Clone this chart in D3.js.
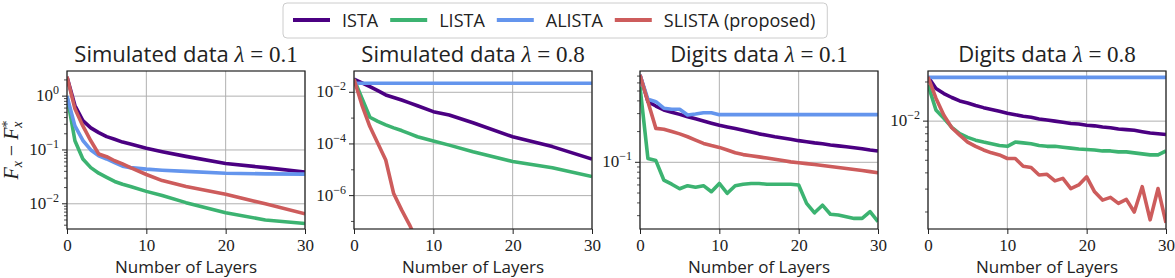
<!DOCTYPE html>
<html lang="en">
<head>
<meta charset="UTF-8">
<title>Objective gap vs number of layers</title>
<style>
  body, html { margin: 0; padding: 0; background: #fff; }
  svg { display: block; }
  .sans { font-family: "Open Sans", "Noto Sans", sans-serif; }
  .serif { font-family: "Liberation Serif", "DejaVu Serif", serif; }
</style>
</head>
<body>
<svg id="svg" width="1175" height="278"></svg>
<script src="https://d3js.org/d3.v7.min.js"></script>
<script>
// ---- data ----
const methods = ['ISTA', 'LISTA', 'ALISTA', 'SLISTA (proposed)'];
const colors = ['#4b0082', '#3cb371', '#6495ed', '#cd5c5c'];
const datasets = ['Simulated data', 'Simulated data', 'Digits data', 'Digits data'];
const lambdas = ['0.1', '0.8', '0.1', '0.8'];
const xTicks = [0, 10, 20, 30];

const layersSparse = [0, 1, 2, 3, 4, 5, 6, 7, 8, 10, 12, 15, 20, 25, 30];
const layersAll = [0, 1, 2, 3, 4, 5, 6, 7, 8, 9, 10, 11, 12, 13, 14, 15, 16, 17, 18, 19, 20, 21, 22, 23, 24, 25, 26, 27, 28, 29, 30];

// simulated data, lambda = 0.1 (on layersSparse)
const simLowIsta   = [2.27, 0.67, 0.35, 0.257, 0.21, 0.177, 0.158, 0.14, 0.129, 0.108, 0.093, 0.076, 0.056, 0.047, 0.039];
const simLowLista  = [1.0, 0.148, 0.068, 0.047, 0.037, 0.031, 0.026, 0.023, 0.021, 0.017, 0.0142, 0.0105, 0.0068, 0.005, 0.0043];
const simLowAlista = [1.0, 0.28, 0.15, 0.1, 0.078, 0.068, 0.058, 0.05, 0.047, 0.044, 0.042, 0.04, 0.037, 0.036, 0.0355];
const simLowSlista = [2.3, 0.58, 0.28, 0.148, 0.084, 0.075, 0.063, 0.055, 0.047, 0.035, 0.027, 0.021, 0.015, 0.01, 0.0065];

// simulated data, lambda = 0.8 (on layersSparse, SLISTA leaves the axes after layer 8)
const simHighIsta   = [0.032, 0.023, 0.0165, 0.0115, 0.0079, 0.0063, 0.005, 0.0039, 0.003, 0.00178, 0.00132, 0.00066, 0.00019, 7.9e-5, 2.6e-5];
const simHighLista  = [0.032, 0.0059, 0.00108, 0.00075, 0.00055, 0.00042, 0.00033, 0.00025, 0.00019, 0.000131, 9e-5, 5.0e-5, 2.1e-5, 1.2e-5, 5.5e-6];
const simHighAlista = [0.0224, 0.0224, 0.0224, 0.0224, 0.0224, 0.0224, 0.0224, 0.0224, 0.0224, 0.0224, 0.0224, 0.0224, 0.0224, 0.0224, 0.0224];
const simHighSlista = [0.032, 0.0032, 0.00047, 1.07e-4, 2.4e-5, 1.2e-6, 2.8e-7, 7.4e-8, 1.6e-8, null, null, null, null, null, null];

// digits data, lambda = 0.1 (on layersAll)
const digLowIsta   = [0.718, 0.393, 0.356, 0.326, 0.309, 0.295, 0.28, 0.267, 0.254, 0.242, 0.231, 0.222, 0.214, 0.206, 0.198, 0.19, 0.184, 0.178, 0.173, 0.168, 0.163, 0.159, 0.155, 0.152, 0.148, 0.145, 0.142, 0.139, 0.136, 0.132, 0.129];
const digLowLista  = [0.55, 0.109, 0.104, 0.067, 0.061, 0.055, 0.059, 0.057, 0.059, 0.0515, 0.062, 0.0497, 0.059, 0.061, 0.062, 0.062, 0.061, 0.061, 0.061, 0.061, 0.06, 0.0396, 0.032, 0.038, 0.031, 0.0304, 0.0293, 0.0282, 0.0282, 0.0328, 0.0262];
const digLowAlista = [0.718, 0.415, 0.393, 0.339, 0.331, 0.331, 0.291, 0.297, 0.306, 0.306, 0.293, 0.293, 0.293, 0.293, 0.293, 0.293, 0.293, 0.293, 0.293, 0.293, 0.293, 0.293, 0.293, 0.293, 0.293, 0.293, 0.293, 0.293, 0.293, 0.293, 0.293];
const digLowSlista = [0.718, 0.393, 0.215, 0.211, 0.2, 0.19, 0.178, 0.165, 0.153, 0.146, 0.14, 0.132, 0.124, 0.119, 0.116, 0.113, 0.11, 0.107, 0.104, 0.101, 0.099, 0.097, 0.095, 0.093, 0.091, 0.089, 0.087, 0.085, 0.083, 0.081, 0.079];

// digits data, lambda = 0.8 (on layersAll)
const digHighIsta   = [0.0219, 0.0178, 0.0163, 0.0152, 0.0143, 0.0138, 0.0132, 0.0127, 0.0123, 0.0119, 0.0115, 0.0112, 0.0109, 0.0107, 0.0104, 0.0102, 0.01, 0.0098, 0.0096, 0.0095, 0.0093, 0.0092, 0.009, 0.0089, 0.0087, 0.0086, 0.0085, 0.0083, 0.0081, 0.008, 0.0079];
const digHighLista  = [0.019, 0.0122, 0.0105, 0.00895, 0.008, 0.0075, 0.00714, 0.0069, 0.0067, 0.0065, 0.0064, 0.0069, 0.0068, 0.0067, 0.0065, 0.0064, 0.0064, 0.0063, 0.0062, 0.0061, 0.00605, 0.006, 0.0059, 0.0059, 0.0058, 0.0058, 0.0057, 0.0056, 0.0055, 0.0055, 0.0059];
const digHighAlista = [0.0217, 0.0217, 0.0217, 0.0217, 0.0217, 0.0217, 0.0217, 0.0217, 0.0217, 0.0217, 0.0217, 0.0217, 0.0217, 0.0217, 0.0217, 0.0217, 0.0217, 0.0217, 0.0217, 0.0217, 0.0217, 0.0217, 0.0217, 0.0217, 0.0217, 0.0217, 0.0217, 0.0217, 0.0217, 0.0217, 0.0217];
const digHighSlista = [0.0219, 0.015, 0.0111, 0.0089, 0.0078, 0.0069, 0.0064, 0.006, 0.0057, 0.0055, 0.00516, 0.00516, 0.0045, 0.0044, 0.00385, 0.0039, 0.00347, 0.00363, 0.00303, 0.00323, 0.00373, 0.00286, 0.00247, 0.00259, 0.00233, 0.0025, 0.002, 0.00313, 0.00174, 0.00303, 0.00165];

// y limits of each panel and which decades carry a label
const yDomains = [[0.0034, 2.93], [5.1e-8, 0.0667], [0.0222, 0.785], [0.00148, 0.0243]];
const yLabelExps = [[0, -1, -2], [-2, -4, -6], [-1], [-2]];

// ---- layout ----
const svg = d3.select('#svg');
const plotTop = 71, plotBottom = 229, plotW = 238;
const lefts = [67, 354, 640, 928];

const panels = [
  { layers: layersSparse, series: [simLowIsta, simLowLista, simLowAlista, simLowSlista], minors: true },
  { layers: layersSparse, series: [simHighIsta, simHighLista, simHighAlista, simHighSlista], minors: false },
  { layers: layersAll, series: [digLowIsta, digLowLista, digLowAlista, digLowSlista], minors: true },
  { layers: layersAll, series: [digHighIsta, digHighLista, digHighAlista, digHighSlista], minors: true }
];

function sciLabel(g, exp) {
  const t = g.append('text').attr('class', 'serif').attr('text-anchor', 'end').attr('fill', '#222');
  t.append('tspan').attr('font-size', 17).text('10');
  t.append('tspan').attr('font-size', 12).attr('dy', -7).text(exp < 0 ? '\u2212' + (-exp) : exp);
  return t;
}

panels.forEach((p, i) => {
  const left = lefts[i];
  const x = d3.scaleLinear().domain([0, 30]).range([left, left + plotW]);
  const y = d3.scaleLog().domain(yDomains[i]).range([plotBottom, plotTop]);
  const g = svg.append('g');

  // decade ticks inside the domain
  const lo = Math.floor(Math.log10(yDomains[i][0])), hi = Math.ceil(Math.log10(yDomains[i][1]));
  const decades = d3.range(lo, hi + 1).filter(e => Math.pow(10, e) >= yDomains[i][0] && Math.pow(10, e) <= yDomains[i][1]);
  const labelled = decades.filter(e => yLabelExps[i].includes(e));
  let minorVals = [];
  if (p.minors) {
    d3.range(lo - 1, hi + 1).forEach(e => {
      for (let m = 2; m <= 9; m++) {
        const v = m * Math.pow(10, e);
        if (v >= yDomains[i][0] && v <= yDomains[i][1]) minorVals.push(v);
      }
    });
  } else {
    minorVals = decades.filter(e => !labelled.includes(e)).map(e => Math.pow(10, e));
  }

  // grid
  g.append('g').selectAll('line').data(xTicks).join('line')
    .attr('x1', d => x(d)).attr('x2', d => x(d))
    .attr('y1', plotTop).attr('y2', plotBottom)
    .attr('stroke', '#b0b0b0').attr('stroke-width', 1);
  g.append('g').selectAll('line').data(labelled).join('line')
    .attr('x1', left).attr('x2', left + plotW)
    .attr('y1', d => y(Math.pow(10, d))).attr('y2', d => y(Math.pow(10, d)))
    .attr('stroke', '#b0b0b0').attr('stroke-width', 1);

  // lines
  const clipId = 'clip' + i;
  svg.append('clipPath').attr('id', clipId).append('rect')
    .attr('x', left).attr('y', plotTop).attr('width', plotW).attr('height', plotBottom - plotTop);
  const line = d3.line().x(d => x(d[0])).y(d => y(d[1]));
  const lg = g.append('g').attr('clip-path', `url(#${clipId})`);
  p.series.forEach((vals, s) => {
    const pts = p.layers.map((l, k) => [l, vals[k]]).filter(d => d[1] != null);
    lg.append('path')
      .attr('d', line(pts))
      .attr('fill', 'none')
      .attr('stroke', colors[s])
      .attr('stroke-width', 3.6)
      .attr('stroke-linejoin', 'round');
  });

  // frame
  g.append('rect').attr('x', left).attr('y', plotTop).attr('width', plotW).attr('height', plotBottom - plotTop)
    .attr('fill', 'none').attr('stroke', '#222').attr('stroke-width', 1.2);

  // x axis
  const xa = g.append('g').attr('transform', `translate(0,${plotBottom})`)
    .call(d3.axisBottom(x).tickValues(xTicks).tickSize(5).tickPadding(3).tickFormat(d3.format('d')));
  xa.select('.domain').remove();
  xa.selectAll('line').attr('stroke', '#222');
  xa.selectAll('text').attr('class', 'serif').attr('font-size', 17).attr('fill', '#222').attr('dy', '0.85em');

  // y ticks
  g.append('g').selectAll('line').data(labelled).join('line')
    .attr('x1', left - 5).attr('x2', left)
    .attr('y1', d => y(Math.pow(10, d))).attr('y2', d => y(Math.pow(10, d)))
    .attr('stroke', '#222').attr('stroke-width', 1);
  g.append('g').selectAll('line').data(minorVals).join('line')
    .attr('x1', left - 3).attr('x2', left)
    .attr('y1', d => y(d)).attr('y2', d => y(d))
    .attr('stroke', '#222').attr('stroke-width', 0.8);
  labelled.forEach(e => {
    sciLabel(g, e).attr('x', left - 8).attr('y', y(Math.pow(10, e)) + 5);
  });

  // title
  const t = g.append('text').attr('x', left + plotW / 2).attr('y', 62)
    .attr('text-anchor', 'middle').attr('font-size', 22).attr('fill', '#222');
  t.append('tspan').attr('class', 'sans').text(datasets[i] + ' ');
  t.append('tspan').attr('class', 'serif').attr('font-style', 'italic').attr('font-size', 23).text('\u03bb');
  t.append('tspan').attr('class', 'serif').attr('font-size', 23).text(' = ' + lambdas[i]);

  // x label
  g.append('text').attr('class', 'sans').attr('x', left + plotW / 2).attr('y', 273)
    .attr('text-anchor', 'middle').attr('font-size', 17).attr('fill', '#222').text('Number of Layers');
});

// y label: F_x - F_x^*
const yl = svg.append('text').attr('class', 'serif').attr('font-size', 20).attr('fill', '#222')
  .attr('text-anchor', 'middle').attr('transform', 'translate(18,150) rotate(-90)');
yl.append('tspan').attr('font-style', 'italic').text('F');
yl.append('tspan').attr('font-style', 'italic').attr('font-size', 14).attr('dy', 4).text('x');
yl.append('tspan').attr('dy', -4).text(' \u2212 ');
yl.append('tspan').attr('font-style', 'italic').text('F');
yl.append('tspan').attr('font-style', 'italic').attr('font-size', 14).attr('dy', 4).text('x');
yl.append('tspan').attr('font-size', 14).attr('dx', -6).attr('dy', -10).text('*');

// legend
const legend = svg.append('g');
const box = legend.append('rect').attr('x', 283).attr('y', 3).attr('height', 35).attr('rx', 4)
  .attr('fill', '#fff').attr('stroke', '#cccccc').attr('stroke-width', 1);
let cx = 293;
methods.forEach((m, s) => {
  legend.append('line').attr('x1', cx).attr('x2', cx + 37).attr('y1', 20).attr('y2', 20)
    .attr('stroke', colors[s]).attr('stroke-width', 4);
  const tx = legend.append('text').attr('class', 'sans').attr('x', cx + 49).attr('y', 27)
    .attr('font-size', 18).attr('fill', '#222').text(m);
  cx = cx + 49 + tx.node().getComputedTextLength() + 12;
});
box.attr('width', cx - 283);
</script>
</body>
</html>
